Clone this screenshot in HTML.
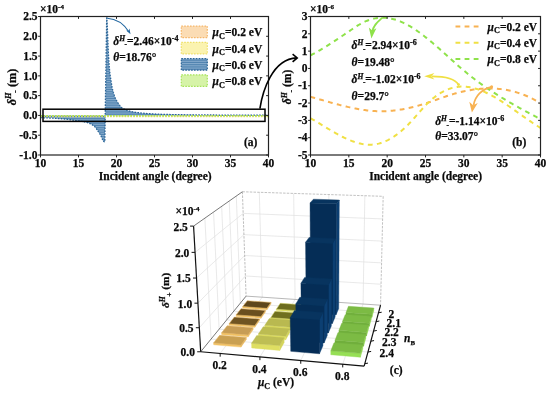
<!DOCTYPE html>
<html lang="en"><head><meta charset="utf-8"><title>Figure</title>
<style>
html,body{margin:0;padding:0;background:#fff;}
body{width:550px;height:396px;overflow:hidden;}
svg{display:block;font-family:"Liberation Serif", serif;}
text{white-space:pre;stroke:#0a0a0a;stroke-width:0.25px;}
</style></head><body>
<svg width="550" height="396" viewBox="0 0 550 396">
<rect width="550" height="396" fill="#fff"/>
<defs><pattern id="hb" patternUnits="userSpaceOnUse" width="6" height="1.8"><rect width="6" height="1.8" fill="#86abcd"/><rect y="0.9" width="6" height="0.9" fill="#4f82ae"/></pattern></defs>
<g id="plot-a">
<path d="M40.5 115.43 L40.5 117.63 L41.31 117.66 L42.12 117.69 L42.93 117.72 L43.75 117.75 L44.56 117.78 L45.37 117.81 L46.18 117.85 L46.99 117.89 L47.8 117.92 L48.61 117.96 L49.43 118 L50.24 118.04 L51.05 118.08 L51.86 118.12 L52.67 118.17 L53.48 118.21 L54.29 118.25 L55.11 118.3 L55.92 118.35 L56.73 118.4 L57.54 118.45 L58.35 118.51 L59.16 118.57 L59.97 118.63 L60.78 118.69 L61.6 118.76 L62.41 118.83 L63.22 118.91 L64.03 118.99 L64.84 119.07 L65.65 119.16 L66.46 119.25 L67.28 119.34 L68.09 119.44 L68.9 119.54 L69.71 119.65 L70.52 119.76 L71.33 119.88 L72.14 120 L72.96 120.12 L73.77 120.24 L74.58 120.36 L75.39 120.49 L76.2 120.6 L77.01 120.72 L77.82 120.83 L78.64 120.94 L79.45 121.05 L80.26 121.17 L81.07 121.29 L81.88 121.42 L82.69 121.56 L83.5 121.72 L84.32 121.88 L85.13 122.06 L85.94 122.26 L86.75 122.49 L87.56 122.74 L88.37 123.02 L89.18 123.33 L89.99 123.67 L90.81 124.04 L91.62 124.44 L92.43 124.92 L93.24 125.46 L94.05 126.09 L94.86 126.8 L95.67 127.67 L96.49 128.79 L97.3 130.03 L98.11 131.29 L98.92 132.51 L99.73 133.77 L100.54 135.12 L101.35 136.67 L102.17 138.73 L102.98 140.62 L103.79 141.54 L104.6 141.83 L104.8 141.83 L105.3 115.43 Z" fill="url(#hb)" stroke="none"/>
<path d="M105.3 115.43 L106.7 17.93 L106.9 17.93 L107.21 24.71 L107.51 31.75 L107.82 39.59 L108.13 47.55 L108.43 54.03 L108.74 59.21 L109.05 63.8 L109.35 67.77 L109.66 71.06 L109.97 73.74 L110.27 76.02 L110.58 78.03 L110.89 79.9 L111.19 81.77 L111.5 83.75 L111.81 85.76 L112.12 87.55 L112.42 88.93 L112.73 90.16 L113.04 91.31 L113.34 92.41 L113.65 93.44 L113.96 94.41 L114.26 95.32 L114.57 96.17 L114.88 96.98 L115.18 97.73 L115.49 98.43 L115.8 99.08 L116.1 99.68 L116.41 100.25 L116.72 100.78 L117.02 101.31 L117.33 101.82 L117.64 102.32 L117.94 102.81 L118.25 103.29 L118.56 103.75 L118.86 104.19 L119.17 104.62 L119.48 105.04 L119.78 105.44 L120.09 105.82 L120.4 106.18 L120.71 106.53 L121.01 106.86 L121.32 107.17 L121.63 107.46 L121.93 107.73 L122.24 107.98 L122.55 108.21 L122.85 108.41 L123.16 108.6 L123.47 108.76 L123.77 108.92 L124.08 109.06 L124.39 109.21 L124.69 109.35 L125 109.49 L125.5 109.7 L127.92 110.6 L130.35 111.3 L132.77 111.84 L135.19 112.26 L137.62 112.6 L140.04 112.9 L142.47 113.15 L144.89 113.37 L147.31 113.56 L149.74 113.71 L152.16 113.85 L154.58 113.98 L157.01 114.09 L159.43 114.2 L161.86 114.29 L164.28 114.38 L166.7 114.45 L169.13 114.51 L171.55 114.56 L173.97 114.61 L176.4 114.65 L178.82 114.69 L181.25 114.73 L183.67 114.76 L186.09 114.79 L188.52 114.82 L190.94 114.85 L193.36 114.87 L195.79 114.89 L198.21 114.91 L200.64 114.93 L203.06 114.95 L205.48 114.97 L207.91 114.98 L210.33 115 L212.75 115.01 L215.18 115.02 L217.6 115.03 L220.03 115.05 L222.45 115.06 L224.87 115.07 L227.3 115.08 L229.72 115.09 L232.14 115.1 L234.57 115.11 L236.99 115.12 L239.42 115.13 L241.84 115.14 L244.26 115.15 L246.69 115.16 L249.11 115.16 L251.53 115.17 L253.96 115.18 L256.38 115.19 L258.81 115.2 L261.23 115.21 L263.65 115.21 L266.08 115.22 L268.5 115.23 L268.5 115.43 Z" fill="url(#hb)" stroke="none"/>
<path d="M40.5 117.63 L41.31 117.66 L42.12 117.69 L42.93 117.72 L43.75 117.75 L44.56 117.78 L45.37 117.81 L46.18 117.85 L46.99 117.89 L47.8 117.92 L48.61 117.96 L49.43 118 L50.24 118.04 L51.05 118.08 L51.86 118.12 L52.67 118.17 L53.48 118.21 L54.29 118.25 L55.11 118.3 L55.92 118.35 L56.73 118.4 L57.54 118.45 L58.35 118.51 L59.16 118.57 L59.97 118.63 L60.78 118.69 L61.6 118.76 L62.41 118.83 L63.22 118.91 L64.03 118.99 L64.84 119.07 L65.65 119.16 L66.46 119.25 L67.28 119.34 L68.09 119.44 L68.9 119.54 L69.71 119.65 L70.52 119.76 L71.33 119.88 L72.14 120 L72.96 120.12 L73.77 120.24 L74.58 120.36 L75.39 120.49 L76.2 120.6 L77.01 120.72 L77.82 120.83 L78.64 120.94 L79.45 121.05 L80.26 121.17 L81.07 121.29 L81.88 121.42 L82.69 121.56 L83.5 121.72 L84.32 121.88 L85.13 122.06 L85.94 122.26 L86.75 122.49 L87.56 122.74 L88.37 123.02 L89.18 123.33 L89.99 123.67 L90.81 124.04 L91.62 124.44 L92.43 124.92 L93.24 125.46 L94.05 126.09 L94.86 126.8 L95.67 127.67 L96.49 128.79 L97.3 130.03 L98.11 131.29 L98.92 132.51 L99.73 133.77 L100.54 135.12 L101.35 136.67 L102.17 138.73 L102.98 140.62 L103.79 141.54 L104.6 141.83 L104.8 141.83 L106.7 17.93 L106.9 17.93 L107.21 24.71 L107.51 31.75 L107.82 39.59 L108.13 47.55 L108.43 54.03 L108.74 59.21 L109.05 63.8 L109.35 67.77 L109.66 71.06 L109.97 73.74 L110.27 76.02 L110.58 78.03 L110.89 79.9 L111.19 81.77 L111.5 83.75 L111.81 85.76 L112.12 87.55 L112.42 88.93 L112.73 90.16 L113.04 91.31 L113.34 92.41 L113.65 93.44 L113.96 94.41 L114.26 95.32 L114.57 96.17 L114.88 96.98 L115.18 97.73 L115.49 98.43 L115.8 99.08 L116.1 99.68 L116.41 100.25 L116.72 100.78 L117.02 101.31 L117.33 101.82 L117.64 102.32 L117.94 102.81 L118.25 103.29 L118.56 103.75 L118.86 104.19 L119.17 104.62 L119.48 105.04 L119.78 105.44 L120.09 105.82 L120.4 106.18 L120.71 106.53 L121.01 106.86 L121.32 107.17 L121.63 107.46 L121.93 107.73 L122.24 107.98 L122.55 108.21 L122.85 108.41 L123.16 108.6 L123.47 108.76 L123.77 108.92 L124.08 109.06 L124.39 109.21 L124.69 109.35 L125 109.49 L125.5 109.7 L127.92 110.6 L130.35 111.3 L132.77 111.84 L135.19 112.26 L137.62 112.6 L140.04 112.9 L142.47 113.15 L144.89 113.37 L147.31 113.56 L149.74 113.71 L152.16 113.85 L154.58 113.98 L157.01 114.09 L159.43 114.2 L161.86 114.29 L164.28 114.38 L166.7 114.45 L169.13 114.51 L171.55 114.56 L173.97 114.61 L176.4 114.65 L178.82 114.69 L181.25 114.73 L183.67 114.76 L186.09 114.79 L188.52 114.82 L190.94 114.85 L193.36 114.87 L195.79 114.89 L198.21 114.91 L200.64 114.93 L203.06 114.95 L205.48 114.97 L207.91 114.98 L210.33 115 L212.75 115.01 L215.18 115.02 L217.6 115.03 L220.03 115.05 L222.45 115.06 L224.87 115.07 L227.3 115.08 L229.72 115.09 L232.14 115.1 L234.57 115.11 L236.99 115.12 L239.42 115.13 L241.84 115.14 L244.26 115.15 L246.69 115.16 L249.11 115.16 L251.53 115.17 L253.96 115.18 L256.38 115.19 L258.81 115.2 L261.23 115.21 L263.65 115.21 L266.08 115.22 L268.5 115.23" fill="none" stroke="#2b6597" stroke-width="1.3" stroke-dasharray="1.6 1.3"/>
<path d="M40.5 116.03 H268.5" stroke="#f6c27a" stroke-width="1.6" stroke-dasharray="1.6 1.3" fill="none"/>
<path d="M40.5 116.33 H268.5" stroke="#efe36a" stroke-width="1.6" stroke-dasharray="1.6 1.3" fill="none"/>
<path d="M40.5 115.63 H268.5" stroke="#a4e34e" stroke-width="1.5" stroke-dasharray="1.6 1.3" fill="none"/>
<rect x="40.5" y="16.5" width="228" height="138.5" fill="none" stroke="#222" stroke-width="1.2"/>
<path d="M40.5 155 v2.4 M40.5 16.5 v2.4 M78.5 155 v2.4 M78.5 16.5 v2.4 M116.5 155 v2.4 M116.5 16.5 v2.4 M154.5 155 v2.4 M154.5 16.5 v2.4 M192.5 155 v2.4 M192.5 16.5 v2.4 M230.5 155 v2.4 M230.5 16.5 v2.4 M268.5 155 v2.4 M268.5 16.5 v2.4 M40.5 155 h-2.4 M268.5 155 h-2.4 M40.5 135.21 h-2.4 M268.5 135.21 h-2.4 M40.5 115.43 h-2.4 M268.5 115.43 h-2.4 M40.5 95.64 h-2.4 M268.5 95.64 h-2.4 M40.5 75.86 h-2.4 M268.5 75.86 h-2.4 M40.5 56.07 h-2.4 M268.5 56.07 h-2.4 M40.5 36.29 h-2.4 M268.5 36.29 h-2.4 M40.5 16.5 h-2.4 M268.5 16.5 h-2.4 " stroke="#222" stroke-width="1" fill="none"/>
<rect x="43" y="109.2" width="222" height="12.2" fill="none" stroke="#000" stroke-width="1.5"/>
<text x="40.5" y="166.5" font-size="11.5" text-anchor="middle" font-weight="bold" font-style="normal" fill="#0a0a0a" >10</text>
<text x="78.5" y="166.5" font-size="11.5" text-anchor="middle" font-weight="bold" font-style="normal" fill="#0a0a0a" >15</text>
<text x="116.5" y="166.5" font-size="11.5" text-anchor="middle" font-weight="bold" font-style="normal" fill="#0a0a0a" >20</text>
<text x="154.5" y="166.5" font-size="11.5" text-anchor="middle" font-weight="bold" font-style="normal" fill="#0a0a0a" >25</text>
<text x="192.5" y="166.5" font-size="11.5" text-anchor="middle" font-weight="bold" font-style="normal" fill="#0a0a0a" >30</text>
<text x="230.5" y="166.5" font-size="11.5" text-anchor="middle" font-weight="bold" font-style="normal" fill="#0a0a0a" >35</text>
<text x="268.5" y="166.5" font-size="11.5" text-anchor="middle" font-weight="bold" font-style="normal" fill="#0a0a0a" >40</text>
<text x="37.5" y="158.7" font-size="11.5" text-anchor="end" font-weight="bold" font-style="normal" fill="#0a0a0a" >-1.0</text>
<text x="37.5" y="138.91" font-size="11.5" text-anchor="end" font-weight="bold" font-style="normal" fill="#0a0a0a" >-0.5</text>
<text x="37.5" y="119.13" font-size="11.5" text-anchor="end" font-weight="bold" font-style="normal" fill="#0a0a0a" >0.0</text>
<text x="37.5" y="99.34" font-size="11.5" text-anchor="end" font-weight="bold" font-style="normal" fill="#0a0a0a" >0.5</text>
<text x="37.5" y="79.56" font-size="11.5" text-anchor="end" font-weight="bold" font-style="normal" fill="#0a0a0a" >1.0</text>
<text x="37.5" y="59.77" font-size="11.5" text-anchor="end" font-weight="bold" font-style="normal" fill="#0a0a0a" >1.5</text>
<text x="37.5" y="39.99" font-size="11.5" text-anchor="end" font-weight="bold" font-style="normal" fill="#0a0a0a" >2.0</text>
<text x="37.5" y="20.2" font-size="11.5" text-anchor="end" font-weight="bold" font-style="normal" fill="#0a0a0a" >2.5</text>
<text x="40" y="12.7" font-size="11.5" text-anchor="start" font-weight="bold" font-style="normal" fill="#0a0a0a" >×10<tspan font-size="7" dy="-3.8">-4</tspan></text>
<text x="155.2" y="179.8" font-size="11.5" text-anchor="middle" font-weight="bold" font-style="normal" fill="#0a0a0a" >Incident angle (degree)</text>
<g transform="translate(15.6,86.9) rotate(-90)">
<text x="0" y="0" font-size="12.3" text-anchor="middle" font-weight="bold" font-style="normal" fill="#0a0a0a" ><tspan font-style="italic">δ</tspan><tspan font-style="italic" font-size="8.36" dy="-4.5">H</tspan><tspan font-size="8.36" dy="7" dx="-0.5">-</tspan><tspan dy="-2.5"> (m)</tspan></text>
</g>
<rect x="181.3" y="26.1" width="26" height="11.6" fill="#fbdcb4" stroke="#f6b669" stroke-width="1.2" stroke-dasharray="1.6 1.3"/>
<text x="212.6" y="36.3" font-size="11.5" text-anchor="start" font-weight="bold" font-style="normal" fill="#0a0a0a" ><tspan font-style="italic">μ</tspan><tspan font-size="8.28" dy="2.5">C</tspan><tspan dy="-2.5">=0.2 eV</tspan></text>
<rect x="181.3" y="42.35" width="26" height="11.6" fill="#fbf3b0" stroke="#efe06a" stroke-width="1.2" stroke-dasharray="1.6 1.3"/>
<text x="212.6" y="52.55" font-size="11.5" text-anchor="start" font-weight="bold" font-style="normal" fill="#0a0a0a" ><tspan font-style="italic">μ</tspan><tspan font-size="8.28" dy="2.5">C</tspan><tspan dy="-2.5">=0.4 eV</tspan></text>
<rect x="181.3" y="58.6" width="26" height="11.6" fill="url(#hb)" stroke="#2b6597" stroke-width="1.2" stroke-dasharray="1.6 1.3"/>
<text x="212.6" y="68.8" font-size="11.5" text-anchor="start" font-weight="bold" font-style="normal" fill="#0a0a0a" ><tspan font-style="italic">μ</tspan><tspan font-size="8.28" dy="2.5">C</tspan><tspan dy="-2.5">=0.6 eV</tspan></text>
<rect x="181.3" y="74.85" width="26" height="11.6" fill="#d6f3a8" stroke="#a6e458" stroke-width="1.2" stroke-dasharray="1.6 1.3"/>
<text x="212.6" y="85.05" font-size="11.5" text-anchor="start" font-weight="bold" font-style="normal" fill="#0a0a0a" ><tspan font-style="italic">μ</tspan><tspan font-size="8.28" dy="2.5">C</tspan><tspan dy="-2.5">=0.8 eV</tspan></text>
<path d="M107.2 18.3 C114.5 18.8 122.5 21.8 128.8 31.8" fill="none" stroke="#2267a0" stroke-width="1.15"/>
<path d="M130.5 34.2 L126.16 30.47 L128.5 30.74 L129.45 28.57 Z" fill="#2267a0"/>
<text x="113.3" y="44.6" font-size="11.5" text-anchor="start" font-weight="bold" font-style="normal" fill="#0a0a0a" ><tspan font-style="italic">δ</tspan><tspan font-style="italic" font-size="7.59" dy="-4">H</tspan><tspan font-size="7.36" dy="6.5" dx="-0.5">-</tspan><tspan dy="-2.5" dx="0">=2.46×10</tspan><tspan font-size="8.05" dy="-4">-4</tspan></text>
<text x="113.3" y="60.8" font-size="11.5" text-anchor="start" font-weight="bold" font-style="normal" fill="#0a0a0a" ><tspan font-style="italic">θ</tspan>=18.76°</text>
<text x="244" y="146" font-size="11.5" text-anchor="start" font-weight="bold" font-style="normal" fill="#0a0a0a" >(a)</text>
</g>
<path d="M259.9 108.7 C262.5 92 272 59 296.6 57.9" fill="none" stroke="#000" stroke-width="1.6"/>
<path d="M292.6 54.2 L297.2 57.9 L292.6 61.8" fill="none" stroke="#000" stroke-width="1.6" stroke-linejoin="miter"/>
<g id="plot-b">
<path d="M310.5 96.83 L311.66 97.15 L312.81 97.47 L313.97 97.79 L315.12 98.12 L316.28 98.44 L317.43 98.77 L318.59 99.09 L319.75 99.42 L320.9 99.75 L322.06 100.08 L323.21 100.41 L324.37 100.74 L325.53 101.06 L326.68 101.39 L327.84 101.72 L328.99 102.04 L330.15 102.37 L331.3 102.69 L332.46 103.01 L333.62 103.32 L334.77 103.64 L335.93 103.95 L337.08 104.26 L338.24 104.57 L339.39 104.87 L340.55 105.17 L341.71 105.46 L342.86 105.75 L344.02 106.04 L345.17 106.32 L346.33 106.59 L347.48 106.86 L348.64 107.13 L349.8 107.39 L350.95 107.64 L352.11 107.89 L353.26 108.13 L354.42 108.36 L355.58 108.59 L356.73 108.81 L357.89 109.02 L359.04 109.22 L360.2 109.42 L361.35 109.61 L362.51 109.78 L363.67 109.95 L364.82 110.11 L365.98 110.27 L367.13 110.41 L368.29 110.54 L369.44 110.66 L370.6 110.77 L371.76 110.88 L372.91 110.97 L374.07 111.05 L375.22 111.11 L376.38 111.17 L377.54 111.21 L378.69 111.25 L379.85 111.27 L381 111.27 L382.16 111.27 L383.31 111.25 L384.47 111.22 L385.63 111.18 L386.78 111.13 L387.94 111.06 L389.09 110.99 L390.25 110.9 L391.4 110.8 L392.56 110.69 L393.72 110.57 L394.87 110.43 L396.03 110.29 L397.18 110.14 L398.34 109.97 L399.49 109.8 L400.65 109.61 L401.81 109.42 L402.96 109.21 L404.12 109 L405.27 108.77 L406.43 108.54 L407.59 108.3 L408.74 108.05 L409.9 107.79 L411.05 107.52 L412.21 107.24 L413.36 106.95 L414.52 106.66 L415.68 106.35 L416.83 106.04 L417.99 105.72 L419.14 105.4 L420.3 105.06 L421.45 104.72 L422.61 104.37 L423.77 104.01 L424.92 103.65 L426.08 103.28 L427.23 102.9 L428.39 102.52 L429.55 102.13 L430.7 101.73 L431.86 101.33 L433.01 100.93 L434.17 100.52 L435.32 100.11 L436.48 99.7 L437.64 99.28 L438.79 98.87 L439.95 98.46 L441.1 98.05 L442.26 97.64 L443.41 97.24 L444.57 96.84 L445.73 96.45 L446.88 96.06 L448.04 95.68 L449.19 95.31 L450.35 94.95 L451.51 94.59 L452.66 94.24 L453.82 93.91 L454.97 93.58 L456.13 93.26 L457.28 92.94 L458.44 92.64 L459.6 92.35 L460.75 92.06 L461.91 91.79 L463.06 91.52 L464.22 91.27 L465.37 91.02 L466.53 90.79 L467.69 90.56 L468.84 90.35 L470 90.15 L471.15 89.95 L472.31 89.77 L473.46 89.6 L474.62 89.44 L475.78 89.29 L476.93 89.15 L478.09 89.02 L479.24 88.91 L480.4 88.81 L481.56 88.71 L482.71 88.64 L483.87 88.57 L485.02 88.51 L486.18 88.47 L487.33 88.44 L488.49 88.43 L489.65 88.42 L490.8 88.43 L491.96 88.45 L493.11 88.49 L494.27 88.54 L495.42 88.6 L496.58 88.68 L497.74 88.77 L498.89 88.88 L500.05 89 L501.2 89.13 L502.36 89.28 L503.52 89.44 L504.67 89.62 L505.83 89.81 L506.98 90.02 L508.14 90.24 L509.29 90.48 L510.45 90.73 L511.61 91 L512.76 91.29 L513.92 91.59 L515.07 91.91 L516.23 92.24 L517.38 92.59 L518.54 92.95 L519.7 93.34 L520.85 93.74 L522.01 94.15 L523.16 94.59 L524.32 95.04 L525.47 95.51 L526.63 95.99 L527.79 96.5 L528.94 97.02 L530.1 97.56 L531.25 98.11 L532.41 98.69 L533.57 99.28 L534.72 99.89 L535.88 100.53 L537.03 101.18 L538.19 101.84 L539.34 102.53 L540.5 103.24" fill="none" stroke="#f8b252" stroke-width="2" stroke-dasharray="4.8 4.3"/>
<path d="M310.5 118.26 L311.66 118.91 L312.81 119.57 L313.97 120.23 L315.12 120.91 L316.28 121.59 L317.43 122.27 L318.59 122.96 L319.75 123.66 L320.9 124.35 L322.06 125.05 L323.21 125.75 L324.37 126.45 L325.53 127.15 L326.68 127.85 L327.84 128.55 L328.99 129.24 L330.15 129.93 L331.3 130.61 L332.46 131.29 L333.62 131.96 L334.77 132.63 L335.93 133.28 L337.08 133.93 L338.24 134.56 L339.39 135.19 L340.55 135.8 L341.71 136.4 L342.86 136.99 L344.02 137.56 L345.17 138.12 L346.33 138.66 L347.48 139.18 L348.64 139.68 L349.8 140.17 L350.95 140.63 L352.11 141.08 L353.26 141.5 L354.42 141.9 L355.58 142.28 L356.73 142.64 L357.89 142.96 L359.04 143.27 L360.2 143.54 L361.35 143.79 L362.51 144.01 L363.67 144.2 L364.82 144.36 L365.98 144.49 L367.13 144.59 L368.29 144.65 L369.44 144.68 L370.6 144.68 L371.76 144.64 L372.91 144.56 L374.07 144.45 L375.22 144.29 L376.38 144.1 L377.54 143.87 L378.69 143.6 L379.85 143.3 L381 142.95 L382.16 142.57 L383.31 142.14 L384.47 141.69 L385.63 141.19 L386.78 140.66 L387.94 140.09 L389.09 139.49 L390.25 138.85 L391.4 138.17 L392.56 137.46 L393.72 136.72 L394.87 135.94 L396.03 135.12 L397.18 134.27 L398.34 133.39 L399.49 132.48 L400.65 131.53 L401.81 130.55 L402.96 129.54 L404.12 128.49 L405.27 127.42 L406.43 126.31 L407.59 125.17 L408.74 124 L409.9 122.81 L411.05 121.58 L412.21 120.32 L413.36 119.03 L414.52 117.73 L415.68 116.41 L416.83 115.08 L417.99 113.75 L419.14 112.42 L420.3 111.1 L421.45 109.79 L422.61 108.5 L423.77 107.23 L424.92 105.99 L426.08 104.79 L427.23 103.63 L428.39 102.5 L429.55 101.42 L430.7 100.37 L431.86 99.36 L433.01 98.39 L434.17 97.46 L435.32 96.57 L436.48 95.72 L437.64 94.91 L438.79 94.13 L439.95 93.4 L441.1 92.7 L442.26 92.04 L443.41 91.41 L444.57 90.83 L445.73 90.28 L446.88 89.78 L448.04 89.31 L449.19 88.87 L450.35 88.48 L451.51 88.12 L452.66 87.81 L453.82 87.53 L454.97 87.29 L456.13 87.08 L457.28 86.91 L458.44 86.78 L459.6 86.69 L460.75 86.62 L461.91 86.6 L463.06 86.6 L464.22 86.64 L465.37 86.71 L466.53 86.82 L467.69 86.95 L468.84 87.11 L470 87.31 L471.15 87.53 L472.31 87.78 L473.46 88.05 L474.62 88.36 L475.78 88.69 L476.93 89.04 L478.09 89.42 L479.24 89.83 L480.4 90.25 L481.56 90.7 L482.71 91.17 L483.87 91.67 L485.02 92.18 L486.18 92.72 L487.33 93.27 L488.49 93.84 L489.65 94.43 L490.8 95.04 L491.96 95.66 L493.11 96.3 L494.27 96.95 L495.42 97.62 L496.58 98.31 L497.74 99 L498.89 99.71 L500.05 100.43 L501.2 101.17 L502.36 101.91 L503.52 102.66 L504.67 103.42 L505.83 104.19 L506.98 104.97 L508.14 105.76 L509.29 106.55 L510.45 107.35 L511.61 108.15 L512.76 108.96 L513.92 109.77 L515.07 110.58 L516.23 111.4 L517.38 112.22 L518.54 113.04 L519.7 113.86 L520.85 114.68 L522.01 115.5 L523.16 116.32 L524.32 117.13 L525.47 117.95 L526.63 118.75 L527.79 119.56 L528.94 120.36 L530.1 121.15 L531.25 121.94 L532.41 122.72 L533.57 123.5 L534.72 124.26 L535.88 125.02 L537.03 125.76 L538.19 126.5 L539.34 127.23 L540.5 127.94" fill="none" stroke="#f0e044" stroke-width="2" stroke-dasharray="4.8 4.3"/>
<path d="M310.5 55.34 L311.66 54.74 L312.81 54.14 L313.97 53.52 L315.12 52.89 L316.28 52.26 L317.43 51.61 L318.59 50.95 L319.75 50.28 L320.9 49.61 L322.06 48.92 L323.21 48.23 L324.37 47.53 L325.53 46.82 L326.68 46.1 L327.84 45.38 L328.99 44.65 L330.15 43.91 L331.3 43.17 L332.46 42.42 L333.62 41.67 L334.77 40.91 L335.93 40.15 L337.08 39.39 L338.24 38.62 L339.39 37.84 L340.55 37.07 L341.71 36.29 L342.86 35.51 L344.02 34.73 L345.17 33.94 L346.33 33.16 L347.48 32.37 L348.64 31.58 L349.8 30.8 L350.95 30.01 L352.11 29.23 L353.26 28.45 L354.42 27.68 L355.58 26.92 L356.73 26.17 L357.89 25.45 L359.04 24.75 L360.2 24.07 L361.35 23.42 L362.51 22.81 L363.67 22.23 L364.82 21.69 L365.98 21.18 L367.13 20.71 L368.29 20.27 L369.44 19.87 L370.6 19.5 L371.76 19.17 L372.91 18.88 L374.07 18.61 L375.22 18.39 L376.38 18.19 L377.54 18.03 L378.69 17.91 L379.85 17.81 L381 17.75 L382.16 17.73 L383.31 17.73 L384.47 17.77 L385.63 17.84 L386.78 17.94 L387.94 18.08 L389.09 18.24 L390.25 18.44 L391.4 18.67 L392.56 18.92 L393.72 19.21 L394.87 19.53 L396.03 19.88 L397.18 20.26 L398.34 20.67 L399.49 21.11 L400.65 21.57 L401.81 22.07 L402.96 22.59 L404.12 23.14 L405.27 23.71 L406.43 24.3 L407.59 24.92 L408.74 25.57 L409.9 26.24 L411.05 26.93 L412.21 27.64 L413.36 28.37 L414.52 29.12 L415.68 29.89 L416.83 30.68 L417.99 31.49 L419.14 32.31 L420.3 33.15 L421.45 34.01 L422.61 34.89 L423.77 35.77 L424.92 36.68 L426.08 37.59 L427.23 38.52 L428.39 39.46 L429.55 40.41 L430.7 41.37 L431.86 42.34 L433.01 43.33 L434.17 44.32 L435.32 45.31 L436.48 46.32 L437.64 47.33 L438.79 48.35 L439.95 49.37 L441.1 50.4 L442.26 51.43 L443.41 52.46 L444.57 53.5 L445.73 54.54 L446.88 55.58 L448.04 56.62 L449.19 57.66 L450.35 58.7 L451.51 59.74 L452.66 60.77 L453.82 61.81 L454.97 62.84 L456.13 63.86 L457.28 64.88 L458.44 65.9 L459.6 66.9 L460.75 67.91 L461.91 68.9 L463.06 69.89 L464.22 70.86 L465.37 71.83 L466.53 72.79 L467.69 73.73 L468.84 74.67 L470 75.6 L471.15 76.51 L472.31 77.42 L473.46 78.31 L474.62 79.2 L475.78 80.08 L476.93 80.94 L478.09 81.8 L479.24 82.65 L480.4 83.49 L481.56 84.33 L482.71 85.15 L483.87 85.97 L485.02 86.77 L486.18 87.57 L487.33 88.36 L488.49 89.15 L489.65 89.92 L490.8 90.69 L491.96 91.45 L493.11 92.21 L494.27 92.96 L495.42 93.7 L496.58 94.43 L497.74 95.16 L498.89 95.88 L500.05 96.6 L501.2 97.31 L502.36 98.02 L503.52 98.72 L504.67 99.41 L505.83 100.1 L506.98 100.78 L508.14 101.46 L509.29 102.13 L510.45 102.8 L511.61 103.47 L512.76 104.13 L513.92 104.78 L515.07 105.44 L516.23 106.09 L517.38 106.73 L518.54 107.37 L519.7 108.01 L520.85 108.65 L522.01 109.28 L523.16 109.91 L524.32 110.54 L525.47 111.16 L526.63 111.78 L527.79 112.4 L528.94 113.02 L530.1 113.64 L531.25 114.25 L532.41 114.87 L533.57 115.48 L534.72 116.09 L535.88 116.7 L537.03 117.31 L538.19 117.92 L539.34 118.52 L540.5 119.13" fill="none" stroke="#8fe24a" stroke-width="2" stroke-dasharray="4.8 4.3"/>
<rect x="310.5" y="16.5" width="230" height="138.5" fill="none" stroke="#222" stroke-width="1.2"/>
<path d="M310.5 155 v2.4 M310.5 16.5 v2.4 M348.83 155 v2.4 M348.83 16.5 v2.4 M387.17 155 v2.4 M387.17 16.5 v2.4 M425.5 155 v2.4 M425.5 16.5 v2.4 M463.83 155 v2.4 M463.83 16.5 v2.4 M502.17 155 v2.4 M502.17 16.5 v2.4 M540.5 155 v2.4 M540.5 16.5 v2.4 M310.5 155 h-2.4 M540.5 155 h-2.4 M310.5 137.69 h-2.4 M540.5 137.69 h-2.4 M310.5 120.38 h-2.4 M540.5 120.38 h-2.4 M310.5 103.06 h-2.4 M540.5 103.06 h-2.4 M310.5 85.75 h-2.4 M540.5 85.75 h-2.4 M310.5 68.44 h-2.4 M540.5 68.44 h-2.4 M310.5 51.12 h-2.4 M540.5 51.12 h-2.4 M310.5 33.81 h-2.4 M540.5 33.81 h-2.4 M310.5 16.5 h-2.4 M540.5 16.5 h-2.4 " stroke="#222" stroke-width="1" fill="none"/>
<text x="310.5" y="166.5" font-size="11.5" text-anchor="middle" font-weight="bold" font-style="normal" fill="#0a0a0a" >10</text>
<text x="348.83" y="166.5" font-size="11.5" text-anchor="middle" font-weight="bold" font-style="normal" fill="#0a0a0a" >15</text>
<text x="387.17" y="166.5" font-size="11.5" text-anchor="middle" font-weight="bold" font-style="normal" fill="#0a0a0a" >20</text>
<text x="425.5" y="166.5" font-size="11.5" text-anchor="middle" font-weight="bold" font-style="normal" fill="#0a0a0a" >25</text>
<text x="463.83" y="166.5" font-size="11.5" text-anchor="middle" font-weight="bold" font-style="normal" fill="#0a0a0a" >30</text>
<text x="502.17" y="166.5" font-size="11.5" text-anchor="middle" font-weight="bold" font-style="normal" fill="#0a0a0a" >35</text>
<text x="540.5" y="166.5" font-size="11.5" text-anchor="middle" font-weight="bold" font-style="normal" fill="#0a0a0a" >40</text>
<text x="307.5" y="158.7" font-size="11.5" text-anchor="end" font-weight="bold" font-style="normal" fill="#0a0a0a" >-5</text>
<text x="307.5" y="141.39" font-size="11.5" text-anchor="end" font-weight="bold" font-style="normal" fill="#0a0a0a" >-4</text>
<text x="307.5" y="124.08" font-size="11.5" text-anchor="end" font-weight="bold" font-style="normal" fill="#0a0a0a" >-3</text>
<text x="307.5" y="106.76" font-size="11.5" text-anchor="end" font-weight="bold" font-style="normal" fill="#0a0a0a" >-2</text>
<text x="307.5" y="89.45" font-size="11.5" text-anchor="end" font-weight="bold" font-style="normal" fill="#0a0a0a" >-1</text>
<text x="307.5" y="72.14" font-size="11.5" text-anchor="end" font-weight="bold" font-style="normal" fill="#0a0a0a" >0</text>
<text x="307.5" y="54.83" font-size="11.5" text-anchor="end" font-weight="bold" font-style="normal" fill="#0a0a0a" >1</text>
<text x="307.5" y="37.51" font-size="11.5" text-anchor="end" font-weight="bold" font-style="normal" fill="#0a0a0a" >2</text>
<text x="307.5" y="20.2" font-size="11.5" text-anchor="end" font-weight="bold" font-style="normal" fill="#0a0a0a" >3</text>
<text x="310" y="12.7" font-size="11.5" text-anchor="start" font-weight="bold" font-style="normal" fill="#0a0a0a" >×10<tspan font-size="7" dy="-3.8">-6</tspan></text>
<text x="425.6" y="179.8" font-size="11.5" text-anchor="middle" font-weight="bold" font-style="normal" fill="#0a0a0a" >Incident angle (degree)</text>
<g transform="translate(291.4,86.9) rotate(-90)">
<text x="0" y="0" font-size="11.6" text-anchor="middle" font-weight="bold" font-style="normal" fill="#0a0a0a" ><tspan font-style="italic">δ</tspan><tspan font-style="italic" font-size="7.89" dy="-4.5">H</tspan><tspan font-size="7.89" dy="7" dx="-0.5">-</tspan><tspan dy="-2.5"> (m)</tspan></text>
</g>
<path d="M455.5 26.4 H480" stroke="#f8b252" stroke-width="2" stroke-dasharray="4.8 4.3" fill="none"/>
<text x="487.5" y="30.5" font-size="11.5" text-anchor="start" font-weight="bold" font-style="normal" fill="#0a0a0a" ><tspan font-style="italic">μ</tspan><tspan font-size="8.28" dy="2.5">C</tspan><tspan dy="-2.5">=0.2 eV</tspan></text>
<path d="M455.5 42.7 H480" stroke="#f0e044" stroke-width="2" stroke-dasharray="4.8 4.3" fill="none"/>
<text x="487.5" y="46.8" font-size="11.5" text-anchor="start" font-weight="bold" font-style="normal" fill="#0a0a0a" ><tspan font-style="italic">μ</tspan><tspan font-size="8.28" dy="2.5">C</tspan><tspan dy="-2.5">=0.4 eV</tspan></text>
<path d="M455.5 59 H480" stroke="#8fe24a" stroke-width="2" stroke-dasharray="4.8 4.3" fill="none"/>
<text x="487.5" y="63.1" font-size="11.5" text-anchor="start" font-weight="bold" font-style="normal" fill="#0a0a0a" ><tspan font-style="italic">μ</tspan><tspan font-size="8.28" dy="2.5">C</tspan><tspan dy="-2.5">=0.8 eV</tspan></text>
<path d="M382.3 17.7 C378 21.5 373.2 25 372.3 32" fill="none" stroke="#8fe24a" stroke-width="1.7"/>
<path d="M371.4 38.4 L368.84 27.43 L372.32 30.45 L376.39 28.31 Z" fill="#8fe24a"/>
<text x="351.6" y="49.2" font-size="11.5" text-anchor="start" font-weight="bold" font-style="normal" fill="#0a0a0a" ><tspan font-style="italic">δ</tspan><tspan font-style="italic" font-size="7.59" dy="-4">H</tspan><tspan font-size="7.36" dy="6.5" dx="-0.5">-</tspan><tspan dy="-2.5" dx="0">=2.94×10</tspan><tspan font-size="8.05" dy="-4">-6</tspan></text>
<text x="351.6" y="66.1" font-size="11.5" text-anchor="start" font-weight="bold" font-style="normal" fill="#0a0a0a" ><tspan font-style="italic">θ</tspan>=19.48°</text>
<text x="351.6" y="82.7" font-size="11.5" text-anchor="start" font-weight="bold" font-style="normal" fill="#0a0a0a" ><tspan font-style="italic">δ</tspan><tspan font-style="italic" font-size="7.59" dy="-4">H</tspan><tspan font-size="7.36" dy="6.5" dx="-0.5">-</tspan><tspan dy="-2.5" dx="0">=-1.02×10</tspan><tspan font-size="8.05" dy="-4">-6</tspan></text>
<text x="351.6" y="99.6" font-size="11.5" text-anchor="start" font-weight="bold" font-style="normal" fill="#0a0a0a" ><tspan font-style="italic">θ</tspan>=29.7°</text>
<path d="M458.5 84.6 C455.5 79.5 449 76.3 432 76.3" fill="none" stroke="#f0e044" stroke-width="1.7"/>
<path d="M424.2 76.3 L434.4 73 L431.4 76.3 L434.4 79.6 Z" fill="#f0e044"/>
<circle cx="458.5" cy="84.6" r="1.4" fill="#f0e044"/>
<path d="M491.6 86.8 C482 89 475 96 473.6 105" fill="none" stroke="#f8b252" stroke-width="1.7"/>
<path d="M471.9 112.5 L469.29 101.74 L473.08 105.2 L477.77 103.12 Z" fill="#f8b252"/>
<circle cx="491.6" cy="86.8" r="1.5" fill="#f8b252"/>
<text x="435.2" y="125" font-size="11.5" text-anchor="start" font-weight="bold" font-style="normal" fill="#0a0a0a" ><tspan font-style="italic">δ</tspan><tspan font-style="italic" font-size="7.59" dy="-4">H</tspan><tspan font-size="7.36" dy="6.5" dx="-0.5">-</tspan><tspan dy="-2.5" dx="0">=-1.14×10</tspan><tspan font-size="8.05" dy="-4">-6</tspan></text>
<text x="435.2" y="140" font-size="11.5" text-anchor="start" font-weight="bold" font-style="normal" fill="#0a0a0a" ><tspan font-style="italic">θ</tspan>=33.07°</text>
<text x="512.2" y="145.6" font-size="11.5" text-anchor="start" font-weight="bold" font-style="normal" fill="#0a0a0a" >(b)</text>
</g>
<g id="plot-c">
<path d="M262.25 297.2 L259.3 192.31" stroke="#e0e0e0" stroke-width="0.7" fill="none"/>
<path d="M220.17 353.48 L262.25 297.2" stroke="#e0e0e0" stroke-width="0.7" fill="none"/>
<path d="M295.11 299.42 L293.67 193.42" stroke="#e0e0e0" stroke-width="0.7" fill="none"/>
<path d="M259.92 356.96 L295.11 299.42" stroke="#e0e0e0" stroke-width="0.7" fill="none"/>
<path d="M328.72 301.69 L328.84 194.56" stroke="#e0e0e0" stroke-width="0.7" fill="none"/>
<path d="M300.75 360.54 L328.72 301.69" stroke="#e0e0e0" stroke-width="0.7" fill="none"/>
<path d="M363.08 304.01 L364.85 195.73" stroke="#e0e0e0" stroke-width="0.7" fill="none"/>
<path d="M342.72 364.22 L363.08 304.01" stroke="#e0e0e0" stroke-width="0.7" fill="none"/>
<path d="M240.35 303.14 L236.3 196.06" stroke="#e0e0e0" stroke-width="0.7" fill="none"/>
<path d="M240.35 303.14 L378.5 312.81" stroke="#e0e0e0" stroke-width="0.7" fill="none"/>
<path d="M233.73 311.26 L229.22 201.04" stroke="#e0e0e0" stroke-width="0.7" fill="none"/>
<path d="M233.73 311.26 L376.12 321.64" stroke="#e0e0e0" stroke-width="0.7" fill="none"/>
<path d="M226.67 319.91 L221.65 206.36" stroke="#e0e0e0" stroke-width="0.7" fill="none"/>
<path d="M226.67 319.91 L373.58 331.08" stroke="#e0e0e0" stroke-width="0.7" fill="none"/>
<path d="M219.14 329.14 L213.55 212.05" stroke="#e0e0e0" stroke-width="0.7" fill="none"/>
<path d="M219.14 329.14 L370.85 341.19" stroke="#e0e0e0" stroke-width="0.7" fill="none"/>
<path d="M211.09 339.02 L204.86 218.17" stroke="#e0e0e0" stroke-width="0.7" fill="none"/>
<path d="M211.09 339.02 L367.93 352.03" stroke="#e0e0e0" stroke-width="0.7" fill="none"/>
<path d="M199.34 327.73 L245.37 275.98" stroke="#e0e0e0" stroke-width="0.7" fill="none"/>
<path d="M245.37 275.98 L381.05 284.23" stroke="#e0e0e0" stroke-width="0.7" fill="none"/>
<path d="M197.94 303.16 L244.65 255.49" stroke="#e0e0e0" stroke-width="0.7" fill="none"/>
<path d="M244.65 255.49 L381.57 262.87" stroke="#e0e0e0" stroke-width="0.7" fill="none"/>
<path d="M196.52 278.04 L243.91 234.63" stroke="#e0e0e0" stroke-width="0.7" fill="none"/>
<path d="M243.91 234.63 L382.09 241.1" stroke="#e0e0e0" stroke-width="0.7" fill="none"/>
<path d="M195.07 252.36 L243.16 213.39" stroke="#e0e0e0" stroke-width="0.7" fill="none"/>
<path d="M243.16 213.39 L382.62 218.93" stroke="#e0e0e0" stroke-width="0.7" fill="none"/>
<path d="M193.58 226.1 L242.4 191.76" stroke="#555" stroke-width="0.8" fill="none"/>
<path d="M242.4 191.76 L383.17 196.32" stroke="#a8a8a8" stroke-width="0.7" fill="none" stroke-dasharray="2.5 1.2"/>
<path d="M242.4 191.76 L246.08 296.11" stroke="#a0a0a0" stroke-width="0.7" fill="none" stroke-dasharray="2.5 1.2"/>
<path d="M383.17 196.32 L380.55 305.19" stroke="#a8a8a8" stroke-width="0.7" fill="none" stroke-dasharray="2.5 1.2"/>
<path d="M246.08 296.11 L380.55 305.19" stroke="#999" stroke-width="0.7" fill="none"/>
<path d="M200.7 351.77 L246.08 296.11" stroke="#555" stroke-width="0.8" fill="none"/>
<path d="M266.89 309.81 L271.03 303.85 L270.99 302.41 L266.86 308.34 Z" fill="#e8b860" stroke="#e8b860" stroke-width="0.4"/>
<path d="M242.73 308.08 L266.89 309.81 L266.86 308.34 L242.67 306.62 Z" fill="#f2c264" stroke="#f2c264" stroke-width="0.4"/>
<path d="M242.67 306.62 L266.86 308.34 L270.99 302.41 L247.32 300.78 Z" fill="#5f471c" stroke="#e2b05c" stroke-width="0.55"/>
<path d="M301.09 312.26 L304.49 306.18 L304.48 304.94 L301.08 310.99 Z" fill="#d4d45c" stroke="#d4d45c" stroke-width="0.4"/>
<path d="M276.37 310.49 L301.09 312.26 L301.08 310.99 L276.34 309.22 Z" fill="#dede62" stroke="#dede62" stroke-width="0.4"/>
<path d="M276.34 309.22 L301.08 310.99 L304.48 304.94 L280.28 303.26 Z" fill="#6c6c1e" stroke="#d0d060" stroke-width="0.55"/>
<path d="M336.08 314.76 L338.71 308.56 L339.32 200.04 L336.57 203.87 Z" fill="#0c3f72" stroke="#0c3f72" stroke-width="0.4"/>
<path d="M310.78 312.95 L336.08 314.76 L336.57 203.87 L310.04 202.93 Z" fill="#052d56" stroke="#052d56" stroke-width="0.4"/>
<path d="M310.04 202.93 L336.57 203.87 L339.32 200.04 L313.4 199.16 Z" fill="#08345f" stroke="#08345f" stroke-width="0.4"/>
<path d="M371.89 317.33 L373.72 311 L373.78 308.03 L371.95 314.3 Z" fill="#92da52" stroke="#92da52" stroke-width="0.4"/>
<path d="M346 315.47 L371.89 317.33 L371.95 314.3 L346.03 312.47 Z" fill="#70ae3c" stroke="#70ae3c" stroke-width="0.4"/>
<path d="M346.03 312.47 L371.95 314.3 L373.78 308.03 L348.44 306.29 Z" fill="#7cbb44" stroke="#7cbb44" stroke-width="0.4"/>
<path d="M261.04 318.24 L265.44 311.9 L265.4 310.43 L260.99 316.73 Z" fill="#e8b860" stroke="#e8b860" stroke-width="0.4"/>
<path d="M236.15 316.38 L261.04 318.24 L260.99 316.73 L236.09 314.88 Z" fill="#f2c264" stroke="#f2c264" stroke-width="0.4"/>
<path d="M236.09 314.88 L260.99 316.73 L265.4 310.43 L241.04 308.67 Z" fill="#6a4f1f" stroke="#e2b05c" stroke-width="0.55"/>
<path d="M296.27 320.87 L299.89 314.4 L299.88 313.12 L296.25 319.56 Z" fill="#d4d45c" stroke="#d4d45c" stroke-width="0.4"/>
<path d="M270.8 318.97 L296.27 320.87 L296.25 319.56 L270.76 317.67 Z" fill="#dede62" stroke="#dede62" stroke-width="0.4"/>
<path d="M270.76 317.67 L296.25 319.56 L299.88 313.12 L274.95 311.32 Z" fill="#70701f" stroke="#d0d060" stroke-width="0.55"/>
<path d="M332.34 323.56 L335.15 316.95 L335.47 238.69 L332.57 243.56 Z" fill="#0c3f72" stroke="#0c3f72" stroke-width="0.4"/>
<path d="M306.26 321.61 L332.34 323.56 L332.57 243.56 L305.56 242.25 Z" fill="#052d56" stroke="#052d56" stroke-width="0.4"/>
<path d="M305.56 242.25 L332.57 243.56 L335.47 238.69 L309.09 237.45 Z" fill="#08345f" stroke="#08345f" stroke-width="0.4"/>
<path d="M369.29 326.32 L371.24 319.56 L371.3 316.51 L369.35 323.2 Z" fill="#92da52" stroke="#92da52" stroke-width="0.4"/>
<path d="M342.57 324.32 L369.29 326.32 L369.35 323.2 L342.6 321.23 Z" fill="#70ae3c" stroke="#70ae3c" stroke-width="0.4"/>
<path d="M342.6 321.23 L369.35 323.2 L371.3 316.51 L345.17 314.64 Z" fill="#7cbb44" stroke="#7cbb44" stroke-width="0.4"/>
<path d="M254.8 327.23 L259.49 320.47 L259.44 318.95 L254.75 325.67 Z" fill="#e8b860" stroke="#e8b860" stroke-width="0.4"/>
<path d="M229.15 325.23 L254.8 327.23 L254.75 325.67 L229.09 323.69 Z" fill="#f2c264" stroke="#f2c264" stroke-width="0.4"/>
<path d="M229.09 323.69 L254.75 325.67 L259.44 318.95 L234.35 317.07 Z" fill="#6f5422" stroke="#e2b05c" stroke-width="0.55"/>
<path d="M291.13 330.05 L294.99 323.15 L294.95 320.52 L291.08 327.36 Z" fill="#d4d45c" stroke="#d4d45c" stroke-width="0.4"/>
<path d="M264.86 328.01 L291.13 330.05 L291.08 327.36 L264.78 325.34 Z" fill="#dede62" stroke="#dede62" stroke-width="0.4"/>
<path d="M264.78 325.34 L291.08 327.36 L294.95 320.52 L269.25 318.6 Z" fill="#b9b950" stroke="#b9b950" stroke-width="0.4"/>
<path d="M328.35 332.95 L331.35 325.89 L331.46 279 L328.4 285 Z" fill="#0c3f72" stroke="#0c3f72" stroke-width="0.4"/>
<path d="M301.43 330.85 L328.35 332.95 L328.4 285 L300.91 283.29 Z" fill="#052d56" stroke="#052d56" stroke-width="0.4"/>
<path d="M300.91 283.29 L328.4 285 L331.46 279 L304.62 277.39 Z" fill="#08345f" stroke="#08345f" stroke-width="0.4"/>
<path d="M366.51 335.92 L368.6 328.7 L368.66 325.33 L366.58 332.48 Z" fill="#92da52" stroke="#92da52" stroke-width="0.4"/>
<path d="M338.92 333.77 L366.51 335.92 L366.58 332.48 L338.94 330.36 Z" fill="#70ae3c" stroke="#70ae3c" stroke-width="0.4"/>
<path d="M338.94 330.36 L366.58 332.48 L368.66 325.33 L341.69 323.33 Z" fill="#7cbb44" stroke="#7cbb44" stroke-width="0.4"/>
<path d="M248.13 336.83 L253.14 329.61 L253.08 327.82 L248.07 335 Z" fill="#e8b860" stroke="#e8b860" stroke-width="0.4"/>
<path d="M221.68 334.68 L248.13 336.83 L248.07 335 L221.6 332.87 Z" fill="#f2c264" stroke="#f2c264" stroke-width="0.4"/>
<path d="M221.6 332.87 L248.07 335 L253.08 327.82 L227.22 325.81 Z" fill="#c79d55" stroke="#e2b05c" stroke-width="0.55"/>
<path d="M285.63 339.87 L289.76 332.49 L289.7 328.87 L285.56 336.17 Z" fill="#d4d45c" stroke="#d4d45c" stroke-width="0.4"/>
<path d="M258.51 337.67 L285.63 339.87 L285.56 336.17 L258.4 334 Z" fill="#dede62" stroke="#dede62" stroke-width="0.4"/>
<path d="M258.4 334 L285.56 336.17 L289.7 328.87 L263.18 326.82 Z" fill="#bcbc52" stroke="#bcbc52" stroke-width="0.4"/>
<path d="M324.09 342.99 L327.29 335.44 L327.31 299.21 L324.05 305.93 Z" fill="#0c3f72" stroke="#0c3f72" stroke-width="0.4"/>
<path d="M296.27 340.74 L324.09 342.99 L324.05 305.93 L295.78 303.98 Z" fill="#052d56" stroke="#052d56" stroke-width="0.4"/>
<path d="M295.78 303.98 L324.05 305.93 L327.31 299.21 L299.74 297.37 Z" fill="#08345f" stroke="#08345f" stroke-width="0.4"/>
<path d="M363.54 346.2 L365.78 338.47 L365.84 334.77 L363.6 342.41 Z" fill="#92da52" stroke="#92da52" stroke-width="0.4"/>
<path d="M335.01 343.88 L363.54 346.2 L363.6 342.41 L335.02 340.13 Z" fill="#70ae3c" stroke="#70ae3c" stroke-width="0.4"/>
<path d="M335.02 340.13 L363.6 342.41 L365.84 334.77 L337.97 332.61 Z" fill="#7cbb44" stroke="#7cbb44" stroke-width="0.4"/>
<path d="M240.99 347.1 L246.36 339.38 L246.29 337.54 L240.92 345.22 Z" fill="#e8b860" stroke="#e8b860" stroke-width="0.4"/>
<path d="M213.69 344.79 L240.99 347.1 L240.92 345.22 L213.59 342.92 Z" fill="#f2c264" stroke="#f2c264" stroke-width="0.4"/>
<path d="M213.59 342.92 L240.92 345.22 L246.29 337.54 L219.61 335.36 Z" fill="#c9a052" stroke="#e2b05c" stroke-width="0.55"/>
<path d="M279.74 350.39 L284.17 342.48 L284.08 337.82 L279.64 345.62 Z" fill="#d4d45c" stroke="#d4d45c" stroke-width="0.4"/>
<path d="M251.72 348.01 L279.74 350.39 L279.64 345.62 L251.56 343.29 Z" fill="#dede62" stroke="#dede62" stroke-width="0.4"/>
<path d="M251.56 343.29 L279.64 345.62 L284.08 337.82 L256.68 335.61 Z" fill="#bebe54" stroke="#bebe54" stroke-width="0.4"/>
<path d="M319.51 353.77 L322.95 345.67 L322.9 312.53 L319.41 319.85 Z" fill="#0c3f72" stroke="#0c3f72" stroke-width="0.4"/>
<path d="M290.74 351.33 L319.51 353.77 L319.41 319.85 L290.21 317.69 Z" fill="#052d56" stroke="#052d56" stroke-width="0.4"/>
<path d="M290.21 317.69 L319.41 319.85 L322.9 312.53 L294.44 310.5 Z" fill="#08345f" stroke="#08345f" stroke-width="0.4"/>
<path d="M360.35 357.23 L362.75 348.93 L362.81 345.12 L360.41 353.33 Z" fill="#92da52" stroke="#92da52" stroke-width="0.4"/>
<path d="M330.81 354.73 L360.35 357.23 L360.41 353.33 L330.82 350.86 Z" fill="#96df55" stroke="#96df55" stroke-width="0.4"/>
<path d="M330.82 350.86 L360.41 353.33 L362.81 345.12 L333.98 342.79 Z" fill="#7cbb44" stroke="#7cbb44" stroke-width="0.4"/>
<path d="M200.7 351.77 L193.58 226.1" stroke="#111" stroke-width="1.2" fill="none"/>
<path d="M200.7 351.77 L364.15 366.09" stroke="#111" stroke-width="1.2" fill="none"/>
<path d="M364.15 366.09 L380.55 305.19" stroke="#111" stroke-width="1.2" fill="none"/>
<path d="M200.7 351.77 L197.2 351.77" stroke="#111" stroke-width="1.0" fill="none"/>
<text x="194.9" y="356.17" font-size="11.5" text-anchor="end" font-weight="bold" font-style="normal" fill="#0a0a0a" >0.0</text>
<path d="M199.34 327.73 L195.84 327.73" stroke="#111" stroke-width="1.0" fill="none"/>
<text x="193.54" y="332.13" font-size="11.5" text-anchor="end" font-weight="bold" font-style="normal" fill="#0a0a0a" >0.5</text>
<path d="M197.94 303.16 L194.44 303.16" stroke="#111" stroke-width="1.0" fill="none"/>
<text x="192.14" y="307.56" font-size="11.5" text-anchor="end" font-weight="bold" font-style="normal" fill="#0a0a0a" >1.0</text>
<path d="M196.52 278.04 L193.02 278.04" stroke="#111" stroke-width="1.0" fill="none"/>
<text x="190.72" y="282.44" font-size="11.5" text-anchor="end" font-weight="bold" font-style="normal" fill="#0a0a0a" >1.5</text>
<path d="M195.07 252.36 L191.57 252.36" stroke="#111" stroke-width="1.0" fill="none"/>
<text x="189.27" y="256.76" font-size="11.5" text-anchor="end" font-weight="bold" font-style="normal" fill="#0a0a0a" >2.0</text>
<path d="M193.58 226.1 L190.08 226.1" stroke="#111" stroke-width="1.0" fill="none"/>
<text x="187.78" y="230.5" font-size="11.5" text-anchor="end" font-weight="bold" font-style="normal" fill="#0a0a0a" >2.5</text>
<path d="M220.17 353.48 L220.17 356.68" stroke="#111" stroke-width="1.0" fill="none"/>
<text x="219.67" y="369.28" font-size="11.5" text-anchor="middle" font-weight="bold" font-style="normal" fill="#0a0a0a" >0.2</text>
<path d="M259.92 356.96 L259.92 360.16" stroke="#111" stroke-width="1.0" fill="none"/>
<text x="259.42" y="372.76" font-size="11.5" text-anchor="middle" font-weight="bold" font-style="normal" fill="#0a0a0a" >0.4</text>
<path d="M300.75 360.54 L300.75 363.74" stroke="#111" stroke-width="1.0" fill="none"/>
<text x="300.25" y="376.34" font-size="11.5" text-anchor="middle" font-weight="bold" font-style="normal" fill="#0a0a0a" >0.6</text>
<path d="M342.72 364.22 L342.72 367.42" stroke="#111" stroke-width="1.0" fill="none"/>
<text x="342.22" y="380.02" font-size="11.5" text-anchor="middle" font-weight="bold" font-style="normal" fill="#0a0a0a" >0.8</text>
<path d="M378.5 312.81 L381.7 312.21" stroke="#111" stroke-width="1.0" fill="none"/>
<path d="M376.12 321.64 L379.32 321.04" stroke="#111" stroke-width="1.0" fill="none"/>
<path d="M373.58 331.08 L376.78 330.48" stroke="#111" stroke-width="1.0" fill="none"/>
<path d="M370.85 341.19 L374.05 340.59" stroke="#111" stroke-width="1.0" fill="none"/>
<path d="M367.93 352.03 L371.13 351.43" stroke="#111" stroke-width="1.0" fill="none"/>
<path d="M364.79 363.7 L367.99 363.1" stroke="#111" stroke-width="1.0" fill="none"/>
<text x="388.5" y="318.11" font-size="11.5" text-anchor="start" font-weight="bold" font-style="normal" fill="#0a0a0a" >2</text>
<text x="386.52" y="326.94" font-size="11.5" text-anchor="start" font-weight="bold" font-style="normal" fill="#0a0a0a" >2.1</text>
<text x="384.38" y="336.38" font-size="11.5" text-anchor="start" font-weight="bold" font-style="normal" fill="#0a0a0a" >2.2</text>
<text x="382.05" y="346.49" font-size="11.5" text-anchor="start" font-weight="bold" font-style="normal" fill="#0a0a0a" >2.3</text>
<text x="379.53" y="357.33" font-size="11.5" text-anchor="start" font-weight="bold" font-style="normal" fill="#0a0a0a" >2.4</text>
<text x="175.5" y="214.8" font-size="11.5" text-anchor="start" font-weight="bold" font-style="normal" fill="#0a0a0a" >×10<tspan font-size="7" dy="-3.8">-4</tspan></text>
<text x="276" y="386" font-size="11.5" text-anchor="middle" font-weight="bold" font-style="normal" fill="#0a0a0a" ><tspan font-style="italic">μ</tspan><tspan font-size="8" dy="2.5">C</tspan><tspan dy="-2.5"> (eV)</tspan></text>
<text x="404" y="342.3" font-size="11.5" text-anchor="start" font-weight="bold" font-style="normal" fill="#0a0a0a" ><tspan font-style="italic">n</tspan><tspan font-size="6.8" dy="2.3">B</tspan></text>
<g transform="translate(169,290.4) rotate(-90)">
<text x="0" y="0" font-size="11.3" text-anchor="middle" font-weight="bold" font-style="normal" fill="#0a0a0a" ><tspan font-style="italic">δ</tspan><tspan font-style="italic" font-size="7.68" dy="-4.5">H</tspan><tspan font-size="7.68" dy="7" dx="-0.5">+</tspan><tspan dy="-2.5"> (m)</tspan></text>
</g>
<text x="389.8" y="374" font-size="11.5" text-anchor="start" font-weight="bold" font-style="normal" fill="#0a0a0a" >(c)</text>
</g>
</svg>
</body></html>
